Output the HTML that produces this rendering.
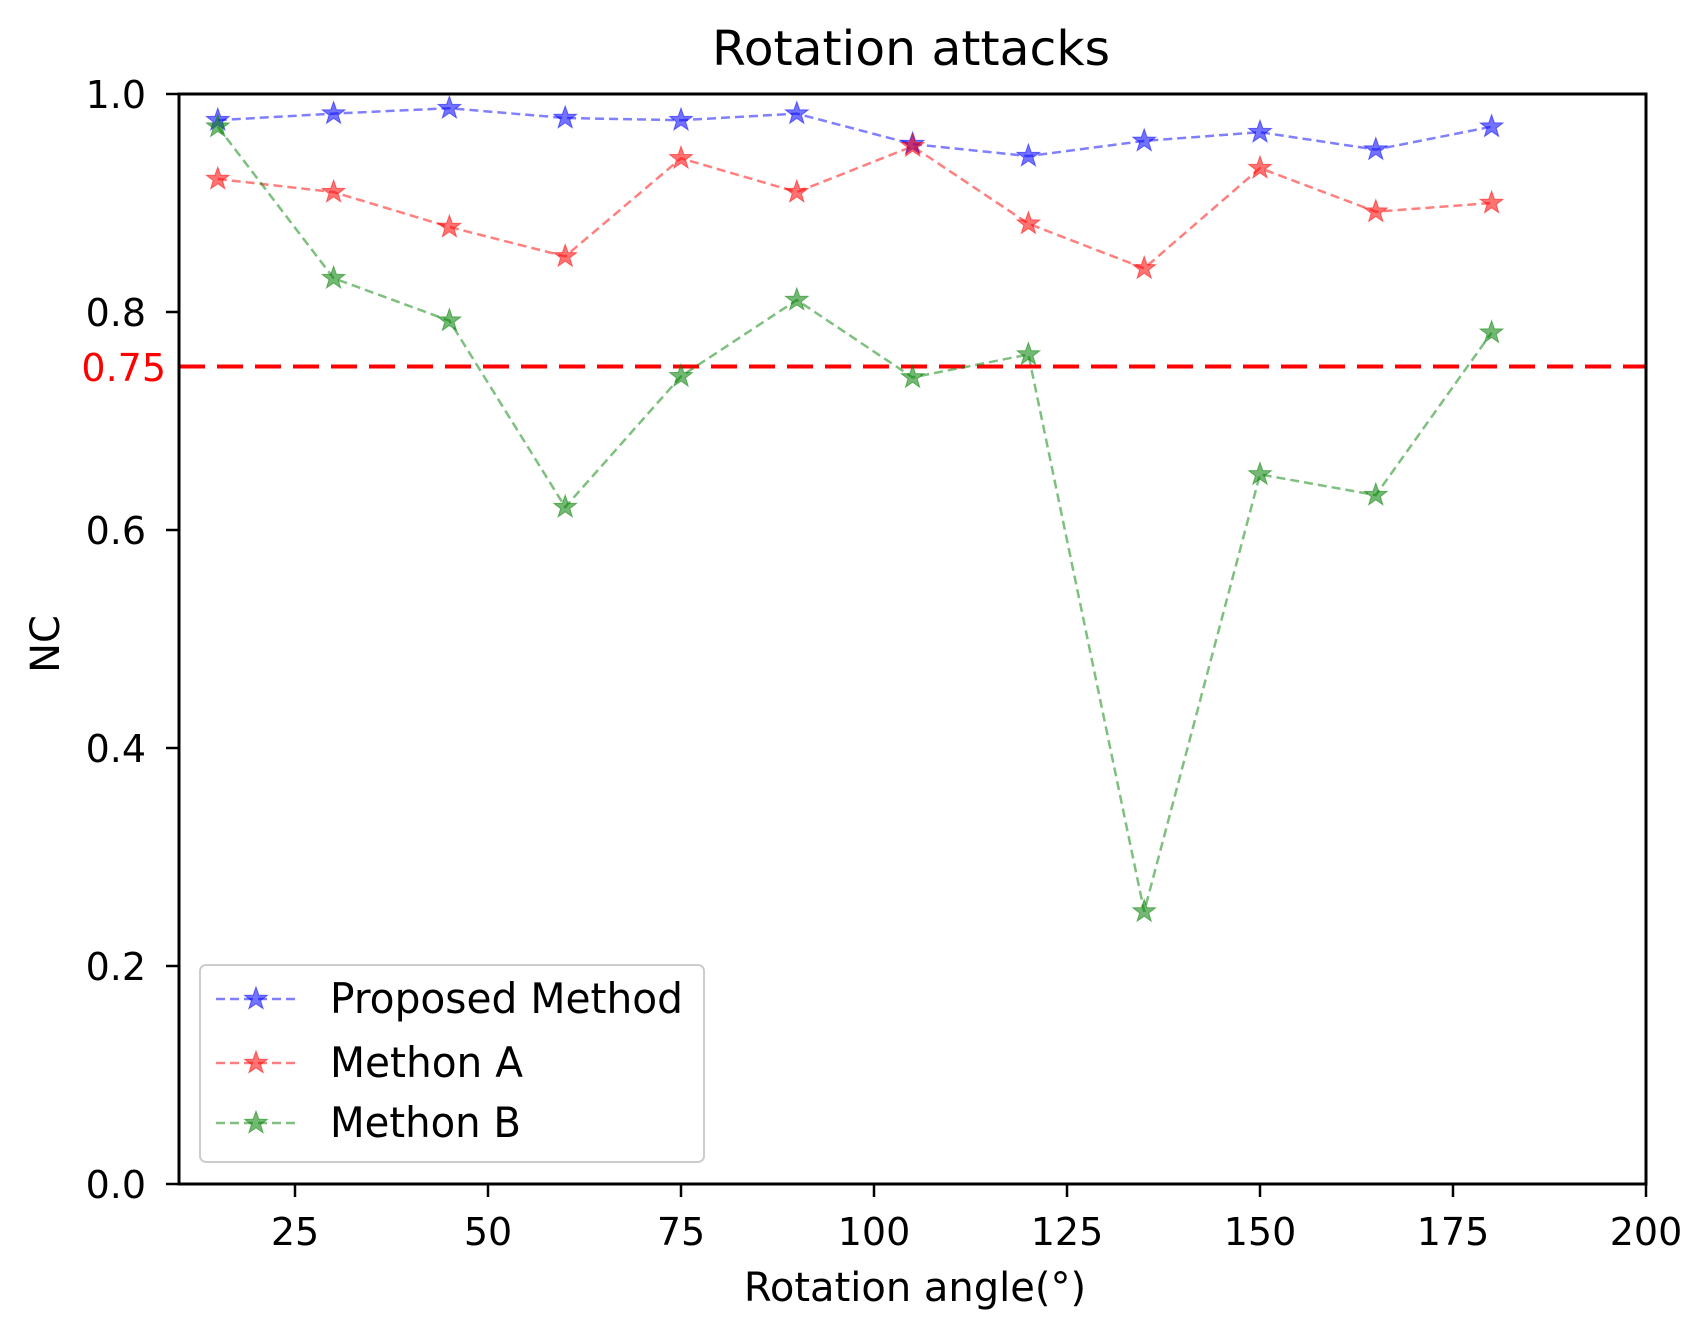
<!DOCTYPE html>
<html><head><meta charset="utf-8"><style>html,body{margin:0;padding:0;background:#fff}svg{display:block}</style></head>
<body>
<svg width="1703" height="1332" viewBox="0 0 1703 1332" xmlns="http://www.w3.org/2000/svg" xmlns:xlink="http://www.w3.org/1999/xlink" font-family="DejaVu Sans, Liberation Sans, sans-serif">
<defs>
<path id="st" d="M0,-12 L2.8,-3.9 11.4,-3.7 4.6,1.5 7.1,9.7 0,4.8 -7.1,9.7 -4.6,1.5 -11.4,-3.7 -2.8,-3.9Z"/>
</defs>
<rect width="1703" height="1332" fill="#fff"/>
<text x="911" y="65" font-size="48" text-anchor="middle" textLength="398" lengthAdjust="spacingAndGlyphs">Rotation attacks</text>

<line x1="179" x2="1646" y1="366.5" y2="366.5" stroke="#f00" stroke-width="4" stroke-dasharray="26,12"/>

<g fill="none" stroke-opacity="0.5" stroke-width="2.5" stroke-dasharray="9,5">
<polyline stroke="#0000ff" points="217.8,120.2 333.6,113.6 449.4,108.2 565.2,118 681,120.2 796.8,113.6 912.6,144.1 1028.4,156.1 1144.2,140.9 1260,132.2 1375.8,149.6 1491.6,126.7"/>
<polyline stroke="#ff0000" points="217.8,179 333.6,192.1 449.4,227 565.2,256.4 681,158.3 796.8,192.1 912.6,146.3 1028.4,223.7 1144.2,268.4 1260,168.1 1375.8,211.7 1491.6,203"/>
<polyline stroke="#008000" points="217.8,126.7 333.6,278.2 449.4,320.7 565.2,507.1 681,376.3 796.8,300 912.6,377.4 1028.4,354.5 1144.2,911.5 1260,474.4 1375.8,495.1 1491.6,332.7"/>
</g>

<g fill="#0000ff" fill-opacity="0.55" stroke="#0000ff" stroke-opacity="0.5">
<use xlink:href="#st" href="#st" x="217.8" y="120.2"/><use xlink:href="#st" href="#st" x="333.6" y="113.6"/><use xlink:href="#st" href="#st" x="449.4" y="108.2"/><use xlink:href="#st" href="#st" x="565.2" y="118"/><use xlink:href="#st" href="#st" x="681" y="120.2"/><use xlink:href="#st" href="#st" x="796.8" y="113.6"/><use xlink:href="#st" href="#st" x="912.6" y="144.1"/><use xlink:href="#st" href="#st" x="1028.4" y="156.1"/><use xlink:href="#st" href="#st" x="1144.2" y="140.9"/><use xlink:href="#st" href="#st" x="1260" y="132.2"/><use xlink:href="#st" href="#st" x="1375.8" y="149.6"/><use xlink:href="#st" href="#st" x="1491.6" y="126.7"/>
</g>
<g fill="#ff0000" fill-opacity="0.55" stroke="#ff0000" stroke-opacity="0.5">
<use xlink:href="#st" href="#st" x="217.8" y="179"/><use xlink:href="#st" href="#st" x="333.6" y="192.1"/><use xlink:href="#st" href="#st" x="449.4" y="227"/><use xlink:href="#st" href="#st" x="565.2" y="256.4"/><use xlink:href="#st" href="#st" x="681" y="158.3"/><use xlink:href="#st" href="#st" x="796.8" y="192.1"/><use xlink:href="#st" href="#st" x="912.6" y="146.3"/><use xlink:href="#st" href="#st" x="1028.4" y="223.7"/><use xlink:href="#st" href="#st" x="1144.2" y="268.4"/><use xlink:href="#st" href="#st" x="1260" y="168.1"/><use xlink:href="#st" href="#st" x="1375.8" y="211.7"/><use xlink:href="#st" href="#st" x="1491.6" y="203"/>
</g>
<g fill="#008000" fill-opacity="0.55" stroke="#008000" stroke-opacity="0.5">
<use xlink:href="#st" href="#st" x="217.8" y="126.7"/><use xlink:href="#st" href="#st" x="333.6" y="278.2"/><use xlink:href="#st" href="#st" x="449.4" y="320.7"/><use xlink:href="#st" href="#st" x="565.2" y="507.1"/><use xlink:href="#st" href="#st" x="681" y="376.3"/><use xlink:href="#st" href="#st" x="796.8" y="300"/><use xlink:href="#st" href="#st" x="912.6" y="377.4"/><use xlink:href="#st" href="#st" x="1028.4" y="354.5"/><use xlink:href="#st" href="#st" x="1144.2" y="911.5"/><use xlink:href="#st" href="#st" x="1260" y="474.4"/><use xlink:href="#st" href="#st" x="1375.8" y="495.1"/><use xlink:href="#st" href="#st" x="1491.6" y="332.7"/>
</g>

<rect x="179" y="94" width="1467" height="1090" fill="none" stroke="#000" stroke-width="3"/>

<g stroke="#000" stroke-width="2.5">
<line x1="166" x2="179" y1="1184" y2="1184"/><line x1="166" x2="179" y1="966" y2="966"/><line x1="166" x2="179" y1="748" y2="748"/><line x1="166" x2="179" y1="530" y2="530"/><line x1="166" x2="179" y1="312" y2="312"/><line x1="166" x2="179" y1="94" y2="94"/>
<line x1="295" x2="295" y1="1184" y2="1197"/><line x1="488" x2="488" y1="1184" y2="1197"/><line x1="681" x2="681" y1="1184" y2="1197"/><line x1="874" x2="874" y1="1184" y2="1197"/><line x1="1067" x2="1067" y1="1184" y2="1197"/><line x1="1260" x2="1260" y1="1184" y2="1197"/><line x1="1453" x2="1453" y1="1184" y2="1197"/><line x1="1646" x2="1646" y1="1184" y2="1197"/>
</g>
<g font-size="38" text-anchor="end">
<text x="146" y="1198">0.0</text><text x="146" y="980">0.2</text><text x="146" y="762">0.4</text><text x="146" y="544">0.6</text><text x="146" y="326">0.8</text><text x="146" y="108">1.0</text>
<text x="166" y="381" fill="#f00">0.75</text>
</g>
<g font-size="38" text-anchor="middle">
<text x="295" y="1245">25</text><text x="488" y="1245">50</text><text x="681" y="1245">75</text><text x="874" y="1245">100</text><text x="1067" y="1245">125</text><text x="1260" y="1245">150</text><text x="1453" y="1245">175</text><text x="1646" y="1245">200</text>
</g>
<text x="915" y="1301" font-size="40" text-anchor="middle">Rotation angle(°)</text>
<text transform="translate(59,644) rotate(-90)" font-size="40" text-anchor="middle">NC</text>

<rect x="200" y="965" width="504" height="197" rx="6" fill="#fff" fill-opacity="0.9" stroke="#ccc" stroke-width="2"/>
<g stroke-opacity="0.5" stroke-width="2.5" stroke-dasharray="9,5">
<line x1="216" x2="299" y1="999" y2="999" stroke="#0000ff"/>
<line x1="216" x2="299" y1="1063" y2="1063" stroke="#ff0000"/>
<line x1="216" x2="299" y1="1123" y2="1123" stroke="#008000"/>
</g>
<use xlink:href="#st" href="#st" x="256" y="999" fill="#0000ff" fill-opacity="0.55" stroke="#0000ff" stroke-opacity="0.5"/>
<use xlink:href="#st" href="#st" x="256" y="1063" fill="#ff0000" fill-opacity="0.55" stroke="#ff0000" stroke-opacity="0.5"/>
<use xlink:href="#st" href="#st" x="256" y="1123" fill="#008000" fill-opacity="0.55" stroke="#008000" stroke-opacity="0.5"/>
<text x="330" y="1013" font-size="42" textLength="353" lengthAdjust="spacingAndGlyphs">Proposed Method</text>
<text x="330" y="1077" font-size="42" textLength="193" lengthAdjust="spacingAndGlyphs">Methon A</text>
<text x="330" y="1137" font-size="42" textLength="191" lengthAdjust="spacingAndGlyphs">Methon B</text>
</svg>
</body></html>
